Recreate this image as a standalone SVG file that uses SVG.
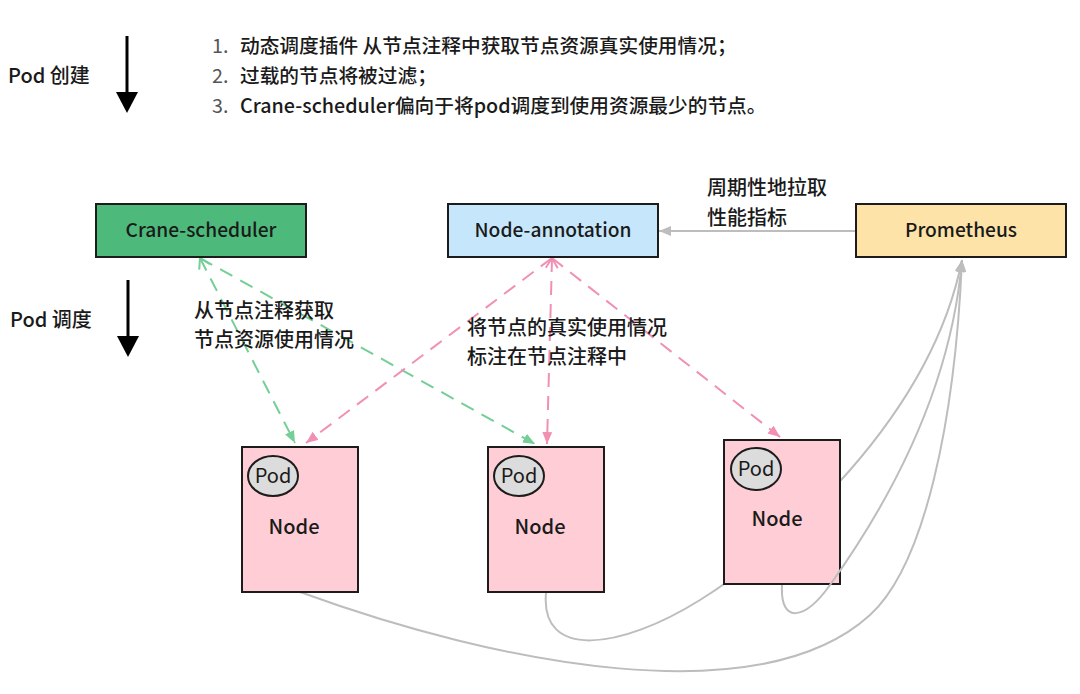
<svg xmlns="http://www.w3.org/2000/svg" width="1080" height="694" viewBox="0 0 1080 694">
<style>
text{font-family:"Noto Sans CJK SC","Noto Sans",sans-serif;fill:#1a1a1a;font-size:20px;font-weight:500}
.num{fill:#555;font-weight:400}
.list{font-size:19.7px}
.bl{font-size:19.2px}
.pt{font-weight:400}
.c{text-anchor:middle}
.box{stroke:#1c1c1c;stroke-width:2}
.green{fill:#4dba7b}
.blue{fill:#c6e7fb}
.yellow{fill:#fde3a7}
.node{fill:#ffcdd6;stroke:#1c1c1c;stroke-width:2}
.pod{fill:#dcdcdc;stroke:#1c1c1c;stroke-width:2}
.gd{fill:none;stroke:#74cf96;stroke-width:2;stroke-dasharray:14 9}
.pd{fill:none;stroke:#f190b3;stroke-width:2;stroke-dasharray:14 9}
.gr{fill:none;stroke:#bdbdbd;stroke-width:2}
</style>
<defs>
<marker id="ag" viewBox="0 0 12 10" refX="12" refY="5" markerWidth="12" markerHeight="10" markerUnits="userSpaceOnUse" orient="auto"><path d="M0,0 L12,5 L0,10 z" fill="#74cf96"/></marker>
<marker id="ap" viewBox="0 0 12 10" refX="12" refY="5" markerWidth="12" markerHeight="10" markerUnits="userSpaceOnUse" orient="auto"><path d="M0,0 L12,5 L0,10 z" fill="#f190b3"/></marker>
<marker id="og" viewBox="0 0 12 14" refX="11" refY="7" markerWidth="12" markerHeight="14" markerUnits="userSpaceOnUse" orient="auto-start-reverse"><path d="M1,1 L11,7 L1,13" fill="none" stroke="#74cf96" stroke-width="2"/></marker>
<marker id="op" viewBox="0 0 12 14" refX="11" refY="7" markerWidth="12" markerHeight="14" markerUnits="userSpaceOnUse" orient="auto-start-reverse"><path d="M1,1 L11,7 L1,13" fill="none" stroke="#f190b3" stroke-width="2"/></marker>
<marker id="agr" viewBox="0 0 12 10" refX="12" refY="5" markerWidth="12" markerHeight="10" markerUnits="userSpaceOnUse" orient="auto"><path d="M0,0 L12,5 L0,10 z" fill="#bdbdbd"/></marker>
</defs>
<rect width="1080" height="694" fill="#ffffff"/>

<g id="header">
<text x="8" y="83">Pod 创建</text>
<line x1="127" y1="36" x2="127" y2="94" stroke="#000" stroke-width="3"/>
<polygon points="116,92 138,92 127,113" fill="#000"/>
<text class="list num" x="212" y="53">1.</text>
<text class="list" x="240" y="53">动态调度插件 从节点注释中获取节点资源真实使用情况；</text>
<text class="list num" x="212" y="83">2.</text>
<text class="list" x="240" y="83">过载的节点将被过滤；</text>
<text class="list num" x="212" y="113">3.</text>
<text class="list" x="240" y="113">Crane-scheduler偏向于将pod调度到使用资源最少的节点。</text>
<text x="10" y="327">Pod 调度</text>
<line x1="128" y1="280" x2="128" y2="338" stroke="#000" stroke-width="3"/>
<polygon points="117,336 139,336 128,357" fill="#000"/>
</g>

<g id="connectors">
<path class="gd" d="M200,258 L295,443" marker-start="url(#og)" marker-end="url(#ag)"/>
<path class="gd" d="M200,258 L535,444" marker-end="url(#ag)"/>
<path class="pd" d="M552,258 L306,443" marker-end="url(#ap)"/>
<path class="pd" d="M552,258 L547,444" marker-start="url(#op)" marker-end="url(#ap)"/>
<path class="pd" d="M552,258 L780,437" marker-end="url(#ap)"/>
<path class="gr" d="M856,231 L659,231" marker-end="url(#agr)"/>
<path class="gr" d="M300,592 C500,665 760,715 870,615 C925,565 955,420 962,260" marker-end="url(#agr)"/>
<path class="gr" d="M546,593 C540,660 620,650 700,600 C780,550 930,420 962,260" marker-end="url(#agr)"/>
</g>

<g id="crane-scheduler">
<rect class="box green" x="96" y="204" width="210" height="53"/>
<text class="c bl" x="201" y="237">Crane-scheduler</text>
</g>
<g id="node-annotation">
<rect class="box blue" x="448" y="204" width="210" height="53"/>
<text class="c bl" x="553" y="237">Node-annotation</text>
</g>
<g id="prometheus">
<rect class="box yellow" x="856" y="204" width="210" height="53"/>
<text class="c bl" x="961" y="237">Prometheus</text>
</g>

<g id="labels">
<text x="194" y="318">从节点注释获取</text>
<text x="194" y="347">节点资源使用情况</text>
<text x="467" y="335">将节点的真实使用情况</text>
<text x="467" y="364">标注在节点注释中</text>
<text x="707" y="195">周期性地拉取</text>
<text x="707" y="225">性能指标</text>
</g>

<g id="node1">
<rect class="node" x="242" y="447" width="116" height="145"/>
<ellipse class="pod" cx="273" cy="476" rx="25" ry="20"/>
<text class="c pt" x="273" y="483">Pod</text>
<text class="c" x="294" y="534">Node</text>
</g>
<g id="node2">
<rect class="node" x="488" y="447" width="116" height="145"/>
<ellipse class="pod" cx="519" cy="476" rx="25" ry="20"/>
<text class="c pt" x="519" y="483">Pod</text>
<text class="c" x="540" y="534">Node</text>
</g>
<g id="node3">
<rect class="node" x="724" y="440" width="116" height="144"/>
<ellipse class="pod" cx="756" cy="469" rx="25" ry="21"/>
<text class="c pt" x="756" y="476">Pod</text>
<text class="c" x="777" y="526">Node</text>
</g>

<g id="connectors-front">
<path class="gr" d="M782,585 C780,625 805,620 830,585 C880,515 950,400 962,260" marker-end="url(#agr)"/>
</g>
</svg>
